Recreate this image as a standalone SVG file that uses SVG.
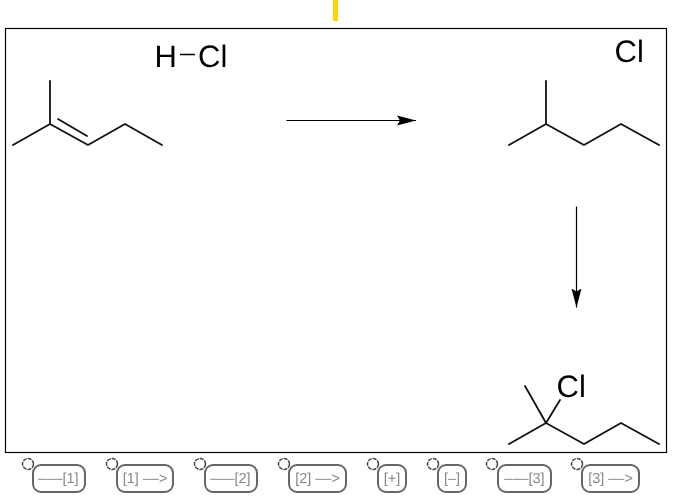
<svg xmlns="http://www.w3.org/2000/svg" width="683" height="502" viewBox="0 0 683 502">
<style>
.bond{fill:none;stroke:#111;stroke-width:1.8;stroke-linecap:round;stroke-linejoin:round}
.arr{fill:none;stroke:#000;stroke-width:1.2}
text{text-rendering:geometricPrecision;filter:url(#gray)}
.lab{font-family:"Liberation Sans",Arial,sans-serif;font-size:31px;fill:#000}
.btn{fill:#fff;stroke:#666;stroke-width:2}
.btxt{font-family:"Liberation Sans",Arial,sans-serif;font-size:14.500px;fill:#888;text-anchor:middle}
.hnd{fill:#fff;stroke:#444;stroke-width:1.500;stroke-dasharray:4 1}
</style>
<defs>
<filter id="gray" x="-10%" y="-10%" width="120%" height="120%" color-interpolation-filters="sRGB"><feOffset dx="0" dy="0"/></filter>
<marker id="ah" markerUnits="userSpaceOnUse" markerWidth="20" markerHeight="12" refX="19" refY="6" orient="auto"><path d="M0 1 L19 6 L0 11 L3 6 Z" fill="#000"/></marker>
</defs>
<rect x="333" y="0" width="5" height="21" fill="#ffd400"/>
<rect id="frame" x="5.5" y="28.5" width="661" height="424" fill="#fff" stroke="#000" stroke-width="1.2"/>
<g id="connectors">
<path class="arr" d="M286.500 120.500H416" marker-end="url(#ah)"/>
<path class="arr" d="M576.500 206.500V307.500" marker-end="url(#ah)"/>
</g>
<g id="hcl"><text class="lab" x="154.500" y="67">H</text><path d="M180 54.500H195" stroke="#000" stroke-width="1.500"/><text class="lab" x="198" y="67">Cl</text></g>
<g id="alkene"><path class="bond" d="M50 81V124L13 145M50 124L88 145L125 124L162 145M58 119L87 136"/></g>
<g id="chloride-label"><text class="lab" x="614.500" y="61.500">Cl</text></g>
<g id="alkane"><path class="bond" d="M546 81V124L509 145M546 124L584 145L621 124L659 145"/></g>
<g id="product"><path class="bond" d="M525 386L546 423L509 444M546 423L584 444L621 423L659 444M546 423L560 400"/><text class="lab" x="556.500" y="396.500">Cl</text></g>
<g id="btn1"><rect class="btn" x="33" y="465" width="52" height="27" rx="8"/><circle class="hnd" cx="28" cy="464" r="5.500"/><text class="btxt" x="58.500" y="483">–––[1]</text></g>
<g id="btn2"><rect class="btn" x="117" y="465" width="56" height="27" rx="8"/><circle class="hnd" cx="112" cy="464" r="5.500"/><text class="btxt" x="145" y="483">[1] ––&gt;</text></g>
<g id="btn3"><rect class="btn" x="205" y="465" width="52" height="27" rx="8"/><circle class="hnd" cx="200" cy="464" r="5.500"/><text class="btxt" x="230.500" y="483">–––[2]</text></g>
<g id="btn4"><rect class="btn" x="289" y="465" width="57" height="27" rx="8"/><circle class="hnd" cx="284" cy="464" r="5.500"/><text class="btxt" x="317.500" y="483">[2] ––&gt;</text></g>
<g id="btn5"><rect class="btn" x="378" y="465" width="28" height="27" rx="8"/><circle class="hnd" cx="373" cy="464" r="5.500"/><text class="btxt" x="392" y="483">[+]</text></g>
<g id="btn6"><rect class="btn" x="438" y="465" width="28" height="27" rx="8"/><circle class="hnd" cx="433" cy="464" r="5.500"/><text class="btxt" x="452" y="483">[–]</text></g>
<g id="btn7"><rect class="btn" x="498" y="465" width="53" height="27" rx="8"/><circle class="hnd" cx="492" cy="464" r="5.500"/><text class="btxt" x="524.500" y="483">–––[3]</text></g>
<g id="btn8"><rect class="btn" x="582" y="465" width="57" height="27" rx="8"/><circle class="hnd" cx="577" cy="464" r="5.500"/><text class="btxt" x="610.500" y="483">[3] ––&gt;</text></g>
</svg>
